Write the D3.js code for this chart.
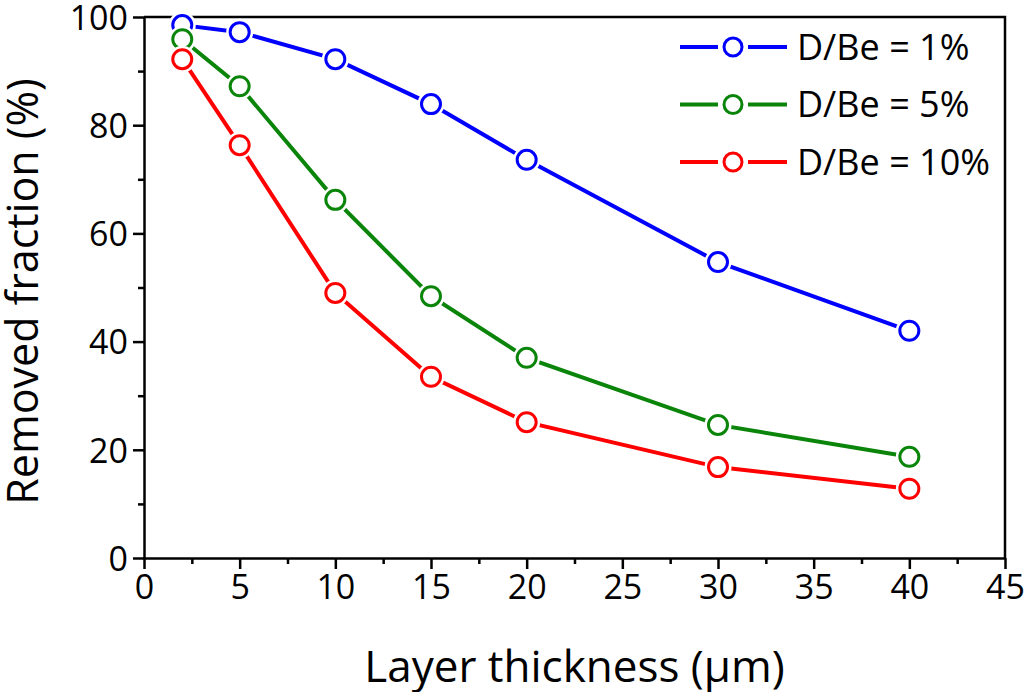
<!DOCTYPE html>
<html lang="en">
  <head>
    <meta charset="UTF-8" />
    <title>Removed fraction</title>
    <style>
      body { margin: 0; background: #fff; }
      text { font-family: "Open Sans", "Noto Sans", sans-serif; fill: #000; }
      .axis path, .axis line { stroke: #000; stroke-width: 2.5px; }
      .axis text { font-size: 34px; }
    </style>
  </head>
  <body>
    <script src="https://d3js.org/d3.v7.min.js"></script>
    <script>
      const thickness = [2, 5, 10, 15, 20, 30, 40];
      const d1 = [98.5, 97.2, 92.2, 83.9, 73.6, 54.7, 42.0];
      const d5 = [95.9, 87.2, 66.2, 48.4, 37.0, 24.6, 18.7];
      const d10 = [92.2, 76.3, 49.0, 33.5, 25.1, 16.8, 12.8];
      const seriesNames = ["D/Be = 1%", "D/Be = 5%", "D/Be = 10%"];
      const colors = ["#0000ff", "#0a850a", "#ff0000"];
      const xTicks = [0, 5, 10, 15, 20, 25, 30, 35, 40, 45];
      const yTicks = [0, 20, 40, 60, 80, 100];

      const width = 1025, height = 692;
      const margin = { left: 144, right: 20, top: 17, bottom: 134 };

      const svg = d3.select("body").append("svg")
        .attr("width", width).attr("height", height);

      const x = d3.scaleLinear().domain([0, 45]).range([margin.left, width - margin.right]);
      const y = d3.scaleLinear().domain([0, 100]).range([height - margin.bottom, margin.top]);

      // minor ticks
      svg.append("g").attr("class", "axis")
        .attr("transform", `translate(0,${y(0)})`)
        .call(d3.axisBottom(x).tickValues(d3.range(2.5, 45, 5)).tickSize(6).tickFormat(""))
        .select(".domain").remove();
      svg.append("g").attr("class", "axis")
        .attr("transform", `translate(${x(0)},0)`)
        .call(d3.axisLeft(y).tickValues(d3.range(10, 100, 20)).tickSize(6).tickFormat(""))
        .select(".domain").remove();

      svg.append("g").attr("class", "axis")
        .attr("transform", `translate(0,${y(0)})`)
        .call(d3.axisBottom(x).tickValues(xTicks).tickSize(11).tickSizeOuter(0).tickPadding(6));
      const yAxis = svg.append("g").attr("class", "axis")
        .attr("transform", `translate(${x(0)},0)`)
        .call(d3.axisLeft(y).tickValues(yTicks).tickSize(11).tickSizeOuter(0).tickPadding(5));
      yAxis.selectAll("text").attr("dy", "0.36em");

      // top and right frame
      svg.append("path")
        .attr("d", `M${x(0)},${y(100)}H${x(45)}V${y(0)}`)
        .attr("fill", "none").attr("stroke", "#000").attr("stroke-width", 2.5);

      const all = [d1, d5, d10];
      const line = d3.line().x((d, i) => x(thickness[i])).y(d => y(d));

      all.forEach((vals, k) => {
        const g = svg.append("g");
        g.append("path").datum(vals).attr("d", line)
          .attr("fill", "none").attr("stroke", colors[k]).attr("stroke-width", 4);
        g.selectAll(".halo").data(vals).join("circle")
          .attr("cx", (d, i) => x(thickness[i])).attr("cy", d => y(d))
          .attr("r", 13.5).attr("fill", "#fff");
        g.selectAll(".pt").data(vals).join("circle")
          .attr("cx", (d, i) => x(thickness[i])).attr("cy", d => y(d))
          .attr("r", 9.5).attr("fill", "#fff")
          .attr("stroke", colors[k]).attr("stroke-width", 3);
      });

      // legend
      const leg = svg.append("g");
      seriesNames.forEach((name, k) => {
        const yy = 47 + k * 57.5;
        leg.append("line").attr("x1", 680).attr("x2", 718).attr("y1", yy).attr("y2", yy)
          .attr("stroke", colors[k]).attr("stroke-width", 4);
        leg.append("line").attr("x1", 748).attr("x2", 787).attr("y1", yy).attr("y2", yy)
          .attr("stroke", colors[k]).attr("stroke-width", 4);
        leg.append("circle").attr("cx", 733).attr("cy", yy).attr("r", 9)
          .attr("fill", "#fff").attr("stroke", colors[k]).attr("stroke-width", 3);
        leg.append("text").attr("x", 797).attr("y", yy).attr("dy", "0.36em")
          .attr("font-size", 36).text(name);
      });

      svg.append("text")
        .attr("x", (x(0) + x(45)) / 2).attr("y", 682)
        .attr("text-anchor", "middle").attr("font-size", 44)
        .text("Layer thickness (μm)");
      svg.append("text")
        .attr("transform", `translate(38,${(y(0) + y(100)) / 2 + 4}) rotate(-90)`)
        .attr("text-anchor", "middle").attr("font-size", 43)
        .text("Removed fraction (%)");
    </script>
  </body>
</html>
